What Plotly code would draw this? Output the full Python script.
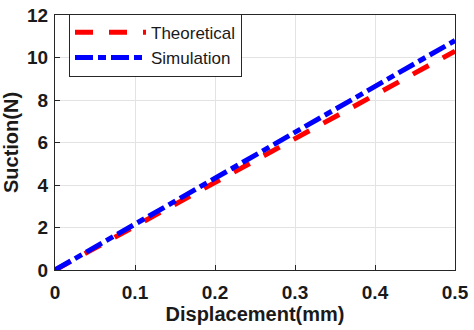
import plotly.graph_objects as go

# Displacement (mm) and suction force (N)
displacement = [0.0, 0.1, 0.2, 0.3, 0.4, 0.5]
theoretical = [0.0, 2.06, 4.12, 6.18, 8.24, 10.3]
simulation = [0.0, 2.16, 4.32, 6.48, 8.64, 10.8]

x_ticks = [0, 0.1, 0.2, 0.3, 0.4, 0.5]
x_tick_labels = ["0", "0.1", "0.2", "0.3", "0.4", "0.5"]
y_ticks = [0, 2, 4, 6, 8, 10, 12]

fig = go.Figure()
fig.add_trace(go.Scatter(
    x=displacement, y=theoretical, mode="lines", name="Theoretical",
    line=dict(color="#ff0000", width=5, dash="18px,16px"),
))
fig.add_trace(go.Scatter(
    x=displacement, y=simulation, mode="lines", name="Simulation",
    line=dict(color="#0000ff", width=5, dash="18px,5px,8px,5px"),
))

font_family = "Arial, Liberation Sans"
axis_common = dict(
    showgrid=True, gridcolor="#e3e3e3", gridwidth=1,
    showline=True, linecolor="#262626", linewidth=1, mirror=True,
    ticks="inside", ticklen=5, tickcolor="#262626",
    zeroline=False, ticklabeloverflow="allow",
    tickfont=dict(family=font_family, size=19, color="#1a1a1a", weight="bold"),
    title_font=dict(family=font_family, size=20, color="#1a1a1a", weight="bold"),
)

fig.update_layout(
    width=474, height=330,
    margin=dict(l=55, r=14, t=5, b=60),
    paper_bgcolor="white", plot_bgcolor="white",
    xaxis=dict(range=[0, 0.5], tickvals=x_ticks, ticktext=x_tick_labels,
               ticklabelstandoff=5,
               title=dict(text="Displacement(mm)", standoff=4), **axis_common),
    yaxis=dict(range=[0, 12], tickvals=y_ticks, ticklabelstandoff=2,
               title=dict(text="Suction(N)", standoff=6), **axis_common),
    legend=dict(
        x=0.035, y=1.005, xanchor="left", yanchor="top",
        bgcolor="white", bordercolor="#262626", borderwidth=1,
        font=dict(family=font_family, size=17, color="#1a1a1a"),
        itemwidth=71, tracegroupgap=0,
    ),
    showlegend=True,
)

fig.write_html("out.html")
